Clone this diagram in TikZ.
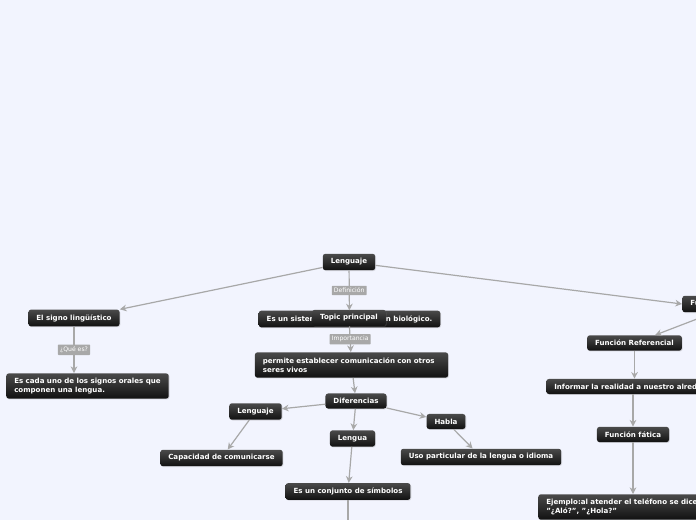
\documentclass[tikz,border=0pt]{standalone}
\usepackage{fontspec}
\setmainfont{DejaVu Sans}
\usetikzlibrary{arrows.meta,shadows}
\definecolor{bg}{HTML}{F2F4FE}
\definecolor{edge}{HTML}{A8A8A8}
\definecolor{boxtop}{HTML}{4A4A4A}
\definecolor{boxbot}{HTML}{111111}
\tikzset{
 topic/.style={rounded corners=2pt, top color=boxtop, bottom color=boxbot, draw=none, text=white,
   font=\fontsize{5.3}{6.6}\selectfont\bfseries, inner xsep=6pt, inner ysep=3.6pt, drop shadow={opacity=0.25,shadow xshift=0.6pt,shadow yshift=-0.6pt}},
 wide/.style={topic, align=left},
 lbl/.style={fill=edge, text=white, font=\fontsize{4.6}{5.5}\selectfont, inner sep=1.6pt, rounded corners=0.5pt},
 conn/.style={draw=edge, line width=0.9pt, -{Stealth[length=5pt,width=5pt]}},
 plain/.style={draw=edge, line width=0.9pt}
}
\begin{document}
\begin{tikzpicture}[x=0.75pt,y=-0.75pt]
\fill[bg] (0,0) rectangle (696,520);
\useasboundingbox (0,0) rectangle (696,520);
\node[topic] (len) at (349,262) {Lenguaje};
\node[topic, minimum width=132pt] (sis) at (349.5,319) {Es un sistema de comunicación biológico.};
\node[topic] (tp) at (349,318) {Topic principal};
\node[wide, text width=133pt, minimum height=19pt] (per) at (351.5,365) {permite establecer comunicación con otros seres vivos};
\node[topic] (dif) at (356,401) {Diferencias};
\node[topic] (len2) at (255.5,411.5) {Lenguaje};
\node[topic] (lengua) at (352.5,438.5) {Lengua};
\node[topic] (habla) at (446,421.5) {Habla};
\node[topic] (cap) at (221.5,458) {Capacidad de comunicarse};
\node[topic] (uso) at (481,457) {Uso particular de la lengua o idioma};
\node[topic] (conj) at (348,491.5) {Es un conjunto de símbolos};
\coordinate (down) at (348,530);
\node[topic] (sig) at (74,318) {El signo lingüístico};
\node[wide, anchor=east, minimum height=19pt] (cada) at (169,386) {Es cada uno de los signos orales que\\componen una lengua.};
\node[topic, anchor=west] (fun) at (682,304) {Funciones del lenguaje};
\node[topic] (fr) at (634.5,343) {Función Referencial};
\node[topic, anchor=west] (inf) at (546,386.5) {Informar la realidad a nuestro alrededor};
\node[topic] (fat) at (633,434.5) {Función fática};
\node[wide, anchor=west, minimum height=19pt] (ej) at (538,507) {Ejemplo:al atender el teléfono se dice\\"¿Aló?", "¿Hola?"};

\draw[conn] (len) -- (sig.north east);
\draw[conn] (len) -- (fun.west);
\draw[conn] (len) -- node[lbl]{Definición} (sis);
\draw[conn] (tp) -- node[lbl]{Importancia} (per);
\draw[conn] (per) -- (dif);
\draw[conn] (dif) -- (len2);
\draw[conn] (dif) -- (lengua);
\draw[conn] (dif) -- (habla);
\draw[conn] (len2) -- (cap);
\draw[conn] (habla) -- (uso);
\draw[conn] (lengua) -- (conj);
\draw[plain] (conj) -- (down);
\draw[conn] (sig) -- node[lbl]{¿Qué es?} (sig |- cada.north);
\draw[conn] (fun) -- (fr);
\draw[conn] (fr) -- (fr |- inf.north);
\draw[conn] (fat |- inf.south) -- (fat);
\draw[conn] (fat) -- (fat |- ej.north);
\end{tikzpicture}
\end{document}
